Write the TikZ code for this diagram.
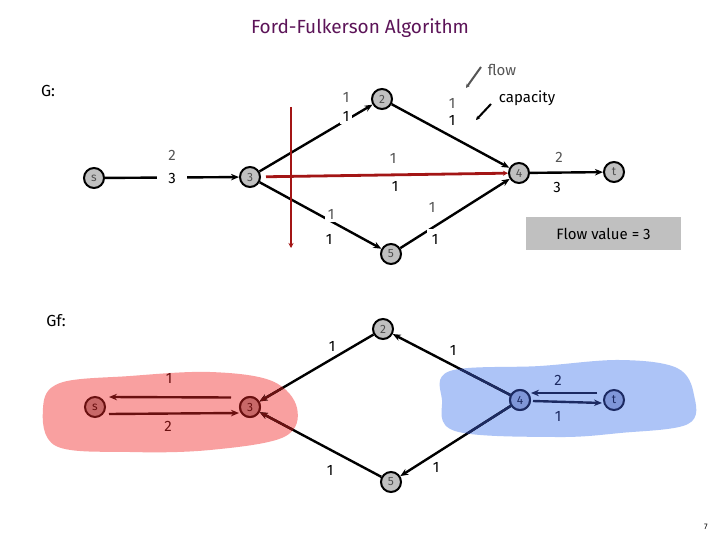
\documentclass[tikz,border=0pt]{standalone}
\usepackage{fontspec}
\setmainfont{Fira Sans}
\usetikzlibrary{arrows.meta}
\definecolor{titlepurple}{HTML}{5C1458}
\definecolor{nodegray}{HTML}{C0C0C0}
\definecolor{txtgray}{HTML}{505050}
\definecolor{lblgray}{HTML}{555555}
\definecolor{cutred}{HTML}{A31515}
\definecolor{blobred}{HTML}{F9A0A0}
\definecolor{blobblue}{HTML}{ADC4F7}
\definecolor{dred}{HTML}{6A1010}
\definecolor{rednode}{HTML}{C86868}
\definecolor{navy}{HTML}{1C2A62}
\definecolor{bluenode}{HTML}{7F96D8}
\definecolor{boxgray}{HTML}{C0C0C0}
\def\redblobpath{plot[smooth cycle, tension=0.6] coordinates {(43,408) (60,383) (130,376) (210,372) (272,381) (297,408) (284,437) (210,450) (130,452) (56,446)}}
\def\blueblobpath{plot[smooth cycle, tension=0.6] coordinates {(442,400) (450,371) (540,366) (620,360) (677,368) (694,395) (688,424) (620,433) (555,437) (455,431)}}
\begin{document}
\begin{tikzpicture}[x=1pt,y=-1pt,
  vtx/.style={circle, draw=black, line width=2pt, fill=nodegray, minimum size=20pt, inner sep=0pt, text=txtgray, font=\fontsize{12}{12}\selectfont},
  rvtx/.style={vtx, draw=dred, fill=rednode, text=dred},
  bvtx/.style={vtx, draw=navy, fill=bluenode, text=navy},
  edge/.style={line width=2.4pt, -{Stealth[length=8pt,width=6.5pt]}},
  flowlbl/.style={text=lblgray, fill=white, inner sep=2.5pt, font=\fontsize{15}{15}\selectfont},
  caplbl/.style={text=black, fill=white, inner sep=3pt, font=\fontsize{15}{15}\selectfont},
  gflbl/.style={text=black, inner sep=2pt, font=\fontsize{15}{15}\selectfont},
  cut/.style={draw=cutred, line width=2.8pt, -{Stealth[length=5pt,width=5pt]}}
]
\useasboundingbox (0,0) rectangle (720,540);
\fill[white] (0,0) rectangle (720,540);

% title and headings
\node[text=titlepurple, font=\fontsize{19}{19}\selectfont] (title) at (360,28) {Ford-Fulkerson Algorithm};
\node[font=\fontsize{16}{16}\selectfont] (gl) at (48,91) {G:};
\node[font=\fontsize{16}{16}\selectfont] (gfl) at (56,321) {Gf:};

% ---------------- G ----------------
\node[vtx] (s) at (94,178) {s};
\node[vtx] (a3) at (250,177) {3};
\node[vtx] (a2) at (382,99) {2};
\node[vtx] (a4) at (519,173) {4};
\node[vtx] (t) at (614,172) {t};
\node[vtx] (a5) at (391,254) {5};

\draw[edge] (s) -- (a3);
\draw[edge] (a3) -- (a2);
\draw[edge] (a2) -- (a4);
\draw[edge] (a3) -- (a5);
\draw[edge] (a5) -- (a4);
\draw[edge] (a4) -- (t);
\draw[cut, shorten <=5pt] (a3) -- (a4);

\coordinate (cuttop) at (291,107);
\coordinate (cutbot) at (291,248);
\draw[cut] (cuttop) -- (cutbot);

\node[flowlbl] (f1) at (172,155) {2};
\node[caplbl, minimum width=30pt]  (c1) at (172,178) {3};
\node[flowlbl] (f2) at (346,97) {1};
\node[caplbl]  (c2) at (346,116) {1};
\node[flowlbl] (f3) at (452,103) {1};
\node[caplbl]  (c3) at (452,120) {1};
\node[flowlbl] (f4) at (393,158) {1};
\node[caplbl]  (c4) at (395,186) {1};
\node[flowlbl] (f5) at (331,214) {1};
\node[caplbl]  (c5) at (329,239) {1};
\node[flowlbl] (f6) at (432,207) {1};
\node[caplbl, inner sep=5pt]  (c6) at (435,239) {1};
\node[flowlbl] (f7) at (559,157) {2};
\node[caplbl]  (c7) at (557,187) {3};

\node[text=lblgray, font=\fontsize{15}{15}\selectfont] (flowtxt) at (502,70) {flow};
\node[font=\fontsize{15}{15}\selectfont] (captxt) at (527,98) {capacity};
\coordinate (fa1) at (481,67);
\coordinate (fa2) at (466,88);
\coordinate (ca1) at (491,104);
\coordinate (ca2) at (476,120);
\draw[draw=lblgray, line width=2pt, -{Stealth[length=4pt,width=4pt]}] (fa1) -- (fa2);
\draw[draw=black, line width=2pt, -{Stealth[length=4pt,width=4pt]}] (ca1) -- (ca2);

\node[fill=boxgray, minimum width=155pt, minimum height=33pt, inner sep=0pt, font=\fontsize{15}{15}\selectfont] (fv) at (603.5,233.5) {Flow value = 3};

% ---------------- Gf ----------------
\fill[blobred] \redblobpath;
\fill[blobblue] \blueblobpath;

\node[rvtx] (bs) at (95,407) {s};
\node[rvtx] (b3) at (250,407) {3};
\node[vtx] (b2) at (383,329) {2};
\node[bvtx] (b4) at (520,400) {4};
\node[bvtx] (bt) at (614,400) {t};
\node[vtx] (b5) at (391,482) {5};

\draw[edge] (b2) -- (b3);
\draw[edge] (b5) -- (b3);
\draw[edge] (b4) -- (b2);
\draw[edge] (b4) -- (b5);
\begin{scope}
\clip \redblobpath;
\draw[edge, draw=dred] (b2) -- (b3);
\draw[edge, draw=dred] (b5) -- (b3);
\end{scope}
\begin{scope}
\clip \blueblobpath;
\draw[edge, draw=navy] (b4) -- (b2);
\draw[edge, draw=navy] (b4) -- (b5);
\end{scope}
\node[rvtx] at (b3) {3};
\node[bvtx] at (b4) {4};

\draw[edge, draw=dred] ([xshift=-8pt,yshift=9.5pt]b3.west) -- ([xshift=3pt,yshift=10pt]bs.east);
\draw[edge, draw=dred] ([xshift=3pt,yshift=-7pt]bs.east) -- ([yshift=-6pt]b3.west);
\draw[edge, draw=navy] ([xshift=-6pt,yshift=7pt]bt.west) -- ([xshift=0pt,yshift=7pt]b4.east);
\draw[edge, draw=navy] ([xshift=2pt,yshift=-1pt]b4.east) -- ([xshift=-1pt,yshift=-3pt]bt.west);

\node[gflbl, text=dred] (g1) at (169,378) {1};
\node[gflbl, text=dred] (g2) at (168,426) {2};
\node[gflbl, fill=white] (g3) at (332,346) {1};
\node[gflbl] (g4) at (330,470) {1};
\node[gflbl] (g5) at (453,350) {1};
\node[gflbl] (g6) at (436,467) {1};
\node[gflbl, text=navy] (g7) at (558,380) {2};
\node[gflbl, text=navy] (g8) at (558,416) {1};

\node[font=\fontsize{8}{8}\selectfont] (pg) at (706,527) {7};
\end{tikzpicture}
\end{document}
